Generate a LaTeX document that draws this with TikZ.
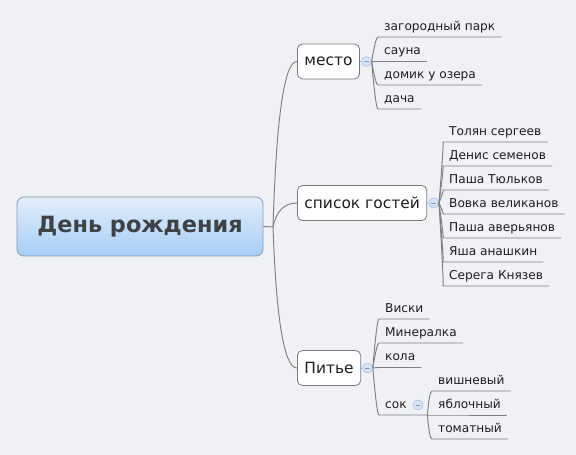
\documentclass[tikz,border=0pt]{standalone}
\usepackage{fontspec}
\setmainfont{DejaVu Sans}
\usetikzlibrary{calc}
\definecolor{bgc}{HTML}{EFF1F5}
\definecolor{linec}{HTML}{808080}
\definecolor{txtc}{HTML}{1E1E1E}
\definecolor{roottxt}{HTML}{3E4246}
\definecolor{rootbord}{HTML}{8A9AAE}
\definecolor{roottop}{HTML}{E2EDFA}
\definecolor{rootbot}{HTML}{A6CEF6}
\definecolor{boxbord}{HTML}{7A7A7A}
\definecolor{circfill}{HTML}{D6E4F4}
\definecolor{circdraw}{HTML}{A8C0DE}
\definecolor{circmin}{HTML}{7E9CC6}
\tikzset{
  conn/.style={draw=linec, line width=0.95bp},
  curv/.style={to path={let \p1=(\tikztostart), \p2=(\tikztotarget) in
     .. controls ({\x1+0.667*#1bp}, {0.333*(\y1)+0.667*(\y2)}) and ({0.667*(\x1)+0.333*(\x2)+0.667*#1bp}, \y2) .. (\tikztotarget)}},
  rootbox/.style={draw=rootbord, line width=0.8bp, rounded corners=7bp, top color=roottop, bottom color=rootbot,
     minimum width=246bp, minimum height=59bp, text=roottxt, font=\fontsize{22.5}{26}\selectfont\bfseries},
  branchbox/.style={draw=boxbord, line width=0.8bp, rounded corners=5bp, fill=white, text=txtc,
     minimum height=35bp, inner xsep=7bp, font=\fontsize{15.5}{18}\selectfont},
  leaf/.style={anchor=south west, inner xsep=6bp, inner ysep=3.5bp, text height=9bp, text depth=3bp,
     text=txtc, font=\fontsize{12.2}{14}\selectfont},
  collapse/.style={circle, draw=circdraw, fill=circfill, line width=0.6bp, minimum size=10bp, inner sep=0pt,
     path picture={\draw[circmin, line width=0.7bp] ([xshift=-2.4bp]path picture bounding box.center) -- ([xshift=2.4bp]path picture bounding box.center);}},
}
\newcommand\leafconn[3]{\draw[conn] (#1) to[curv=#3] (#2.south west) -- (#2.south east);}
\begin{document}
\begin{tikzpicture}[x=1bp,y=-1bp]
\fill[bgc] (0,0) rectangle (576,455);
\useasboundingbox (0,0) rectangle (576,455);

% root
\node[rootbox] (root) at (140,226.5) {День рождения};
\coordinate (rj) at (273,227);

% main branches
\node[branchbox, anchor=west] (mesto) at (297,61.5) {место};
\node[branchbox, anchor=west] (guests) at (297,203) {список гостей};
\node[branchbox, anchor=west] (drink) at (297,368) {Питье};

\draw[conn] (root.east) -- (rj) to[curv=5] (mesto.west);
\draw[conn] (rj) to[curv=5] (guests.west);
\draw[conn] (rj) to[curv=5] (drink.west);

% collapse circles
\node[collapse] (mc) at ([xshift=6.5bp]mesto.east) {};
\node[collapse] (gc) at ([xshift=6.5bp]guests.east) {};
\node[collapse] (dc) at ([xshift=6.5bp]drink.east) {};
\draw[circdraw, line width=0.6bp] (mesto.east) -- (mc.west);
\draw[circdraw, line width=0.6bp] (guests.east) -- (gc.west);
\draw[circdraw, line width=0.6bp] (drink.east) -- (dc.west);

% место leaves
\node[leaf] (m1) at (378,37) {загородный парк};
\node[leaf] (m2) at (378,61.5) {сауна};
\node[leaf] (m3) at (378,85) {домик у озера};
\node[leaf] (m4) at (378,109) {дача};
\leafconn{mc.east}{m1}{4}
\leafconn{mc.east}{m2}{4}
\leafconn{mc.east}{m3}{4}
\leafconn{mc.east}{m4}{4}

% гости leaves
\node[leaf] (g1) at (443,142) {Толян сергеев};
\node[leaf] (g2) at (443,166) {Денис семенов};
\node[leaf] (g3) at (443,190) {Паша Тюльков};
\node[leaf] (g4) at (443,214) {Вовка великанов};
\node[leaf] (g5) at (443,238) {Паша аверьянов};
\node[leaf] (g6) at (443,262) {Яша анашкин};
\node[leaf] (g7) at (443,286) {Серега Князев};
\leafconn{gc.east}{g1}{5}
\leafconn{gc.east}{g2}{5}
\leafconn{gc.east}{g3}{5}
\leafconn{gc.east}{g4}{5}
\leafconn{gc.east}{g5}{5}
\leafconn{gc.east}{g6}{5}
\leafconn{gc.east}{g7}{5}

% Питье leaves
\node[leaf] (d1) at (379,319) {Виски};
\node[leaf] (d2) at (379,343) {Минералка};
\node[leaf] (d3) at (379,367.5) {кола};
\node[leaf, text width=36bp] (d4) at (379,415) {сок};
\leafconn{dc.east}{d1}{4}
\leafconn{dc.east}{d2}{4}
\leafconn{dc.east}{d3}{4}
\leafconn{dc.east}{d4}{4}
\node[collapse] (sc) at (418,405) {};

% сок leaves
\node[leaf] (s1) at (432,391) {вишневый};
\node[leaf] (s2) at (432,415) {яблочный};
\node[leaf] (s3) at (432,439) {томатный};
\leafconn{d4.south east}{s1}{2}
\leafconn{d4.south east}{s2}{2}
\leafconn{d4.south east}{s3}{2}
\end{tikzpicture}
\end{document}
